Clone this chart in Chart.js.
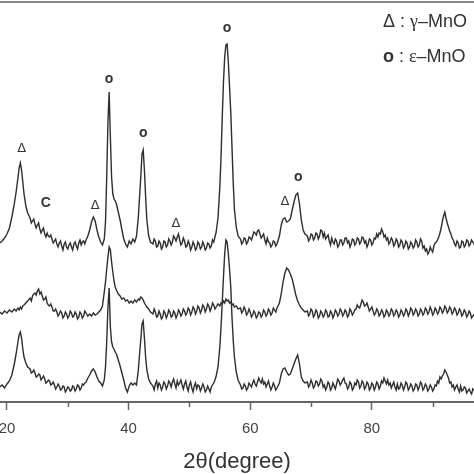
<!DOCTYPE html>
<html><head><meta charset="utf-8">
<script src="https://cdn.jsdelivr.net/npm/chart.js@4"></script>
<style>html,body{margin:0;padding:0;background:#fff;overflow:hidden}</style>
</head><body>
<canvas id="c" width="474" height="474"></canvas>
<script>
// 2θ (degree)
const angles = [
 18.8,19.2,19.6,20.0,20.4,20.8,21.2,
 21.5,21.8,22.0,22.2,22.4,22.6,22.8,23.1,23.4,
 23.8,24.0,24.2,24.4,24.6,24.8,25.0,25.2,25.4,25.6,25.8,26.0,26.2,26.4,26.6,26.8,27.0,27.2,27.4,27.6,
 27.8,28.0,28.2,28.4,28.6,28.8,29.0,29.2,29.4,29.6,29.8,30.0,30.2,30.4,30.6,30.8,31.0,31.2,31.4,31.6,
 31.8,32.0,32.2,32.4,32.6,32.8,33.0,
 33.3,33.6,33.9,34.2,34.5,34.8,35.1,35.4,35.7,36.0,
 36.2,36.4,36.6,36.8,37.0,37.2,37.4,37.6,37.8,38.0,
 38.3,38.6,38.9,39.2,39.5,39.8,40.1,40.4,40.7,41.0,41.3,
 41.6,41.8,42.0,42.2,42.4,42.6,42.8,43.0,43.3,43.6,
 44.0,44.2,44.4,44.6,44.8,45.0,45.2,45.4,45.6,45.8,46.0,46.2,46.4,46.6,46.8,47.0,47.2,47.4,47.6,47.8,
 48.0,48.2,48.4,48.6,48.8,49.0,49.2,49.4,49.6,49.8,50.0,50.2,50.4,50.6,50.8,51.0,51.2,51.4,51.6,51.8,
 52.0,52.2,52.4,52.6,52.8,53.0,53.2,53.4,53.6,53.8,54.0,54.2,54.4,
 54.7,55.0,55.2,55.4,55.6,55.8,56.0,56.2,56.4,56.6,56.8,57.0,57.2,57.4,57.7,58.0,
 58.4,58.6,58.8,59.0,59.2,59.4,59.6,59.8,60.0,60.2,60.4,60.6,60.8,61.0,61.2,61.4,61.6,61.8,62.0,62.2,
 62.4,62.6,62.8,63.0,63.2,63.4,63.6,63.8,64.0,64.2,64.4,
 64.8,65.1,65.4,65.7,66.0,66.3,66.6,66.9,67.2,67.5,67.8,68.1,68.4,68.7,69.0,
 69.4,69.6,69.8,70.0,70.2,70.4,70.6,70.8,71.0,71.2,71.4,71.6,71.8,72.0,72.2,72.4,72.6,72.8,73.0,73.2,
 73.4,73.6,73.8,74.0,74.2,74.4,74.6,74.8,75.0,75.2,75.4,75.6,75.8,76.0,76.2,76.4,76.6,76.8,77.0,77.2,
 77.4,77.6,77.8,78.0,78.2,78.4,78.6,78.8,79.0,79.2,79.4,79.6,79.8,80.0,80.2,80.4,80.6,80.8,81.0,81.2,
 81.4,81.6,81.8,82.0,82.2,82.4,82.6,82.8,83.0,83.2,83.4,83.6,83.8,84.0,84.2,84.4,84.6,84.8,85.0,85.2,
 85.4,85.6,85.8,86.0,86.2,86.4,86.6,86.8,87.0,87.2,87.4,87.6,87.8,88.0,88.2,88.4,88.6,88.8,89.0,89.2,
 89.4,89.6,89.8,90.0,90.2,90.4,90.6,90.8,91.0,91.2,91.4,91.6,91.8,92.0,92.2,92.4,92.6,92.8,93.0,93.2,
 93.4,93.6,93.8,94.0,94.2,94.4,94.6,94.8,95.0,95.2,95.4,95.6,95.8,96.0,96.2,96.4,96.6,
 96.9
];
// intensity (a.u., offset traces)
const upperTrace = [
 159,161,164,168,174,185,198,
 210,224,234,239,232,220,208,196,189,
 184,179,181,183,178,174,177,179,173,169,172,174,168,165,169,166,165,167,163,159,
 161,163,158,155,159,161,156,152,158,160,155,153,157,159,155,152,158,160,156,153,
 159,162,157,160,161,158,162,
 166,172,180,185,181,172,165,160,157,163,
 180,225,280,310,265,225,208,203,201,198,
 190,182,172,163,158,155,161,158,163,160,166,
 185,205,225,248,252,232,205,182,166,160,
 158,163,161,155,156,161,159,153,155,161,160,155,157,163,161,157,160,166,164,161,
 165,168,162,157,159,164,161,155,156,161,158,152,155,160,157,152,154,160,158,153,
 155,160,157,152,154,159,158,154,156,162,160,165,170,
 184,215,245,285,320,345,357,358,340,315,290,255,220,193,175,166,
 163,158,160,164,163,158,160,165,164,162,166,170,169,167,171,172,168,164,166,168,
 162,158,164,160,159,155,157,161,160,156,158,
 166,177,183,184,180,181,183,192,200,207,209,198,182,172,168,
 166,161,163,168,167,162,164,169,168,163,166,172,171,165,169,163,165,167,161,157,
 164,160,158,163,161,155,157,162,162,157,159,164,164,159,161,155,158,163,162,157,
 159,164,163,158,160,165,164,159,161,155,158,163,162,157,159,164,163,168,165,169,
 168,173,170,165,167,162,164,158,160,164,162,156,158,163,161,155,157,162,160,154,
 156,161,159,153,155,160,158,154,156,162,160,155,157,163,161,154,156,151,153,148,
 150,155,152,150,156,159,160,162,165,169,174,181,186,190,184,179,175,171,168,164,
 162,158,156,161,159,154,155,161,160,155,157,162,161,156,158,162,160,
 157
];
const middleTrace = [
 90,88,91,89,92,90,93,
 91,94,92,95,93,96,97,99,101,
 104,101,106,108,109,107,111,113,108,110,106,102,103,105,99,97,96,98,95,91,
 91,93,90,86,88,91,89,84,86,90,88,84,86,91,89,85,86,90,88,83,
 85,90,88,84,86,91,89,
 86,88,86,89,87,88,90,92,96,110,
 120,133,145,155,152,140,130,121,115,112,
 108,106,103,104,101,102,99,101,99,102,100,
 103,102,105,104,102,99,97,95,93,90,
 88,93,90,85,86,91,88,83,85,91,89,84,87,92,90,85,86,91,89,84,
 87,92,90,86,88,93,91,87,89,94,92,87,90,95,93,88,91,96,94,89,
 92,97,95,90,93,98,96,91,94,99,97,93,95,
 98,96,99,98,101,99,103,101,102,99,100,97,98,95,96,93,
 94,89,91,95,92,87,89,93,90,85,87,91,89,84,86,90,89,85,87,92,
 90,86,88,93,91,87,89,94,92,90,94,
 99,108,120,129,134,132,128,123,115,107,101,97,94,92,90,
 91,86,88,93,91,85,87,92,90,84,86,91,89,85,87,92,90,85,86,91,
 89,84,87,92,90,86,88,93,91,86,88,92,90,85,87,93,91,87,89,92,
 93,97,95,94,98,102,100,96,97,99,95,91,93,95,91,87,89,93,91,86,
 88,92,90,85,87,92,90,86,88,93,91,86,88,92,90,85,87,92,90,86,
 88,93,91,86,89,94,92,87,89,93,91,86,88,93,91,87,89,94,92,88,
 90,95,92,87,89,94,92,88,90,95,93,89,91,96,94,89,91,95,93,88,
 90,94,92,87,89,93,91,86,88,92,90,85,87,91,89,84,86,
 88
];
const lowerTrace = [
 15,17,14,18,21,27,38,
 48,60,67,70,64,53,45,39,35,
 33,29,30,32,29,25,26,28,27,22,24,26,23,19,20,22,21,17,18,20,
 17,13,15,18,16,12,13,16,15,10,12,15,14,11,12,16,15,11,13,17,
 16,12,14,18,17,19,20,
 24,27,31,33,30,25,21,19,16,22,
 35,60,95,114,75,60,55,53,50,48,
 42,36,29,22,14,10,16,19,17,19,17,
 32,48,62,78,81,64,45,32,23,19,
 16,12,18,21,14,19,17,12,15,20,18,13,16,21,19,15,20,23,18,14,
 21,17,19,22,17,13,18,21,15,11,17,20,14,10,16,19,13,17,16,11,
 14,18,15,10,12,16,13,10,15,17,19,22,26,
 35,55,75,100,125,148,162,160,148,133,115,85,62,45,30,22,
 17,13,14,18,16,12,14,19,17,15,19,22,18,16,20,24,21,19,23,18,
 20,15,18,21,16,12,15,19,16,12,14,
 19,28,33,34,30,27,28,33,38,43,47,38,25,21,19,
 20,15,17,22,19,14,16,21,20,16,18,23,21,15,17,12,15,20,18,12,
 14,19,16,13,18,23,21,17,19,22,24,19,18,13,15,20,18,12,14,19,
 17,22,20,14,16,21,19,13,15,20,18,12,14,19,17,12,15,20,18,13,
 16,21,19,24,21,18,22,17,19,14,17,20,15,12,18,13,14,19,17,12,
 15,20,18,12,14,18,16,11,13,18,17,12,15,20,18,12,14,18,16,11,
 13,17,15,11,13,17,16,21,19,25,23,26,28,32,30,27,24,19,20,15,
 17,12,15,17,13,10,16,11,12,15,14,9,11,13,10,8,13,
 11
];
const majorTicks = [20,40,60,80];
const minorTicks = [30,50,70,90];
const markerAngles = [22.4,26.4,34.5,36.8,42.4,47.8,56.2,65.7,67.9];
const markerLevels = [253,199,196,323,269,178,374,200,225];
const markerLabels = ['Δ','C','Δ','o','o','Δ','o','Δ','o'];
const legendLines = [['Δ',' : ','γ','–MnO'],['o',' : ','ε','–MnO']];

[upperTrace,middleTrace,lowerTrace].forEach((a,i)=>{ if(a.length!==angles.length) console.error('length mismatch',i,a.length,angles.length); });

const toPts = arr => angles.map((a,i)=>({x:a,y:arr[i]}));
const INK = '#2e2e2e';

const decor = {
  id:'decor',
  afterDraw(chart){
    const {ctx, scales:{x,y}} = chart;
    ctx.save();
    ctx.fillStyle = '#888';
    ctx.fillRect(0,1,chart.width,2);
    ctx.strokeStyle = '#666'; ctx.lineWidth = 1.5;
    const base = chart.chartArea.bottom;
    minorTicks.forEach(v=>{
      const px = Math.round(x.getPixelForValue(v))+0.5;
      ctx.beginPath(); ctx.moveTo(px,base); ctx.lineTo(px,base+5); ctx.stroke();
    });
    ctx.fillStyle = '#333'; ctx.textAlign='center'; ctx.textBaseline='middle';
    markerLabels.forEach((t,i)=>{
      const px = x.getPixelForValue(markerAngles[i]);
      const py = y.getPixelForValue(markerLevels[i]);
      if (t==='Δ') ctx.font = '13px "DejaVu Sans"';
      else ctx.font = 'bold 14px "Liberation Sans"';
      ctx.fillText(t, px, py);
    });
    ctx.textAlign='left'; ctx.fillStyle='#333';
    const fonts = [
      ['18px "Liberation Sans"','18px "Liberation Sans"','18px "Liberation Serif"','18px "Liberation Sans"'],
      ['bold 18px "Liberation Sans"','18px "Liberation Sans"','18px "Liberation Serif"','18px "Liberation Sans"']
    ];
    const ys = [22,57];
    legendLines.forEach((parts,li)=>{
      let cx = 383;
      parts.forEach((p,pi)=>{
        ctx.font = fonts[li][pi];
        ctx.fillText(p, cx, ys[li]);
        cx += ctx.measureText(p).width;
      });
    });
    ctx.restore();
  }
};

new Chart(document.getElementById('c'), {
  type:'line',
  data:{ datasets:[
    {data:toPts(upperTrace), borderColor:INK, borderWidth:1.4, pointRadius:0, tension:0},
    {data:toPts(middleTrace), borderColor:INK, borderWidth:1.4, pointRadius:0, tension:0},
    {data:toPts(lowerTrace), borderColor:INK, borderWidth:1.4, pointRadius:0, tension:0}
  ]},
  options:{
    responsive:false, animation:false, devicePixelRatio:1,
    layout:{padding:{top:3,left:0,right:0,bottom:0}},
    plugins:{legend:{display:false}, tooltip:{enabled:false}},
    scales:{
      x:{ type:'linear', min:18.85, max:96.8,
        afterBuildTicks:s=>{ s.ticks = majorTicks.map(v=>({value:v})); },
        afterFit:s=>{ s.height = 72; s.paddingLeft = 0; s.paddingRight = 0; },
        grid:{ drawOnChartArea:false, drawTicks:true, tickLength:8, tickColor:'#666', tickWidth:1.5 },
        border:{ display:true, color:'#666', width:2 },
        ticks:{ padding:10, color:'#444', font:{family:'Liberation Sans', size:15}, maxRotation:0, autoSkip:false },
        title:{ display:true, text:'2θ(degree)', color:'#333', font:{family:'Liberation Sans', size:22, lineHeight:1.1}, padding:{top:0,bottom:0} }
      },
      y:{ type:'linear', min:0, max:399, display:false }
    }
  },
  plugins:[decor]
});
</script>
</body></html>
